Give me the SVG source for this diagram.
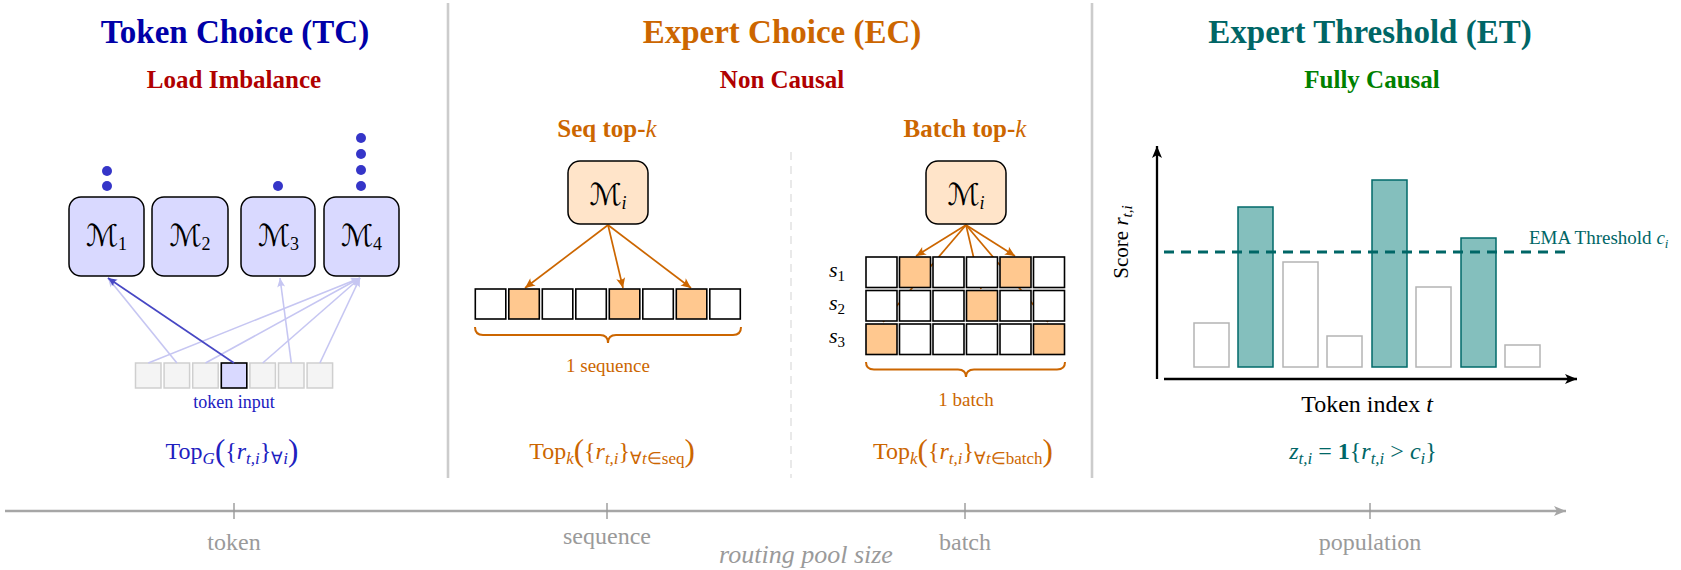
<svg xmlns="http://www.w3.org/2000/svg" width="1681" height="570" viewBox="0 0 1681 570">
<style>
text{font-family:"Liberation Serif","Times New Roman",serif}
.title{font-size:33px;font-weight:bold;text-anchor:middle}
.sub{font-size:25px;font-weight:bold;text-anchor:middle}
.mid{text-anchor:middle}
.it{font-style:italic;font-weight:normal}
.cal{font-family:"DejaVu Serif","DejaVu Sans",serif;font-size:30px;text-anchor:middle}
.num{font-family:"Liberation Serif",serif;font-size:18px}
.sep{stroke:#cccccc;stroke-width:2.6}
.tcbox{fill:#d9d9ff;stroke:#000;stroke-width:1.5}
.ecbox{fill:#ffe4c9;stroke:#000;stroke-width:1.5}
.tok{fill:#f4f4f4;stroke:#cfcfcf;stroke-width:1.5}
.cell{fill:#fff;stroke:#000;stroke-width:1.6}
.hot{fill:#ffc88f}
.dot{fill:#3535c8}
.lt{stroke:#c6c6f2;stroke-width:1.6;fill:none;marker-end:url(#aLt)}
.dk{stroke:#4747c4;stroke-width:1.7;fill:none;marker-end:url(#aDk)}
.or{stroke:#cc6600;stroke-width:1.7;fill:none;marker-end:url(#aOr)}
.brace{stroke:#cc6600;stroke-width:2;fill:none}
.bar0{fill:#fff;stroke:#b4b4b4;stroke-width:1.5}
.bar1{fill:#84bfbd;stroke:#006a6a;stroke-width:1.5}
.axis{stroke:#000;stroke-width:2.3;fill:none}
.gray{fill:#9a9a9a}
</style>
<defs>
<marker id="aLt" viewBox="-11 -6 12 12" refX="0" refY="0" markerWidth="12" markerHeight="12" markerUnits="userSpaceOnUse" orient="auto"><path d="M0,0 L-9,-4 Q-6,0 -9,4 Z" fill="#c6c6f2"/></marker>
<marker id="aDk" viewBox="-11 -6 12 12" refX="0" refY="0" markerWidth="12" markerHeight="12" markerUnits="userSpaceOnUse" orient="auto"><path d="M0,0 L-9,-4 Q-6,0 -9,4 Z" fill="#4747c4"/></marker>
<marker id="aOr" viewBox="-11 -6 12 12" refX="0" refY="0" markerWidth="12" markerHeight="12" markerUnits="userSpaceOnUse" orient="auto"><path d="M0,0 L-10,-4.5 Q-6.5,0 -10,4.5 Z" fill="#cc6600"/></marker>
<marker id="aBk" viewBox="-13 -7 14 14" refX="0" refY="0" markerWidth="14" markerHeight="14" markerUnits="userSpaceOnUse" orient="auto"><path d="M0,0 L-12,-5 L-9,0 L-12,5 Z" fill="#000"/></marker>
<marker id="aGr" viewBox="-13 -7 14 14" refX="0" refY="0" markerWidth="14" markerHeight="14" markerUnits="userSpaceOnUse" orient="auto"><path d="M0,0 L-12,-5 L-9,0 L-12,5 Z" fill="#a6a6a6"/></marker>
</defs>
<rect width="1681" height="570" fill="#fff"/>

<!-- separators -->
<g id="separators">
<line class="sep" x1="448" y1="3" x2="448" y2="478"/>
<line class="sep" x1="1092" y1="3" x2="1092" y2="478"/>
<line x1="791" y1="152" x2="791" y2="478" stroke="#dedede" stroke-width="1.3" stroke-dasharray="8 6"/>
</g>

<!-- titles -->
<g id="titles">
<text class="title" x="235" y="43" fill="#0000a8">Token Choice (TC)</text>
<text class="sub" x="234" y="88" fill="#b00000">Load Imbalance</text>
<text class="title" x="782" y="43" fill="#cc6600">Expert Choice (EC)</text>
<text class="sub" x="782" y="88" fill="#b00000">Non Causal</text>
<text class="title" x="1370" y="43" fill="#006666">Expert Threshold (ET)</text>
<text class="sub" x="1372" y="88" fill="#008000">Fully Causal</text>
<text class="sub" x="607" y="137" fill="#cc6600">Seq top-<tspan class="it">k</tspan></text>
<text class="sub" x="965" y="137" fill="#cc6600">Batch top-<tspan class="it">k</tspan></text>
</g>

<!-- TC experts -->
<g id="tc-m1">
<rect class="tcbox" x="69" y="197" width="75" height="79" rx="12"/>
<text class="cal" x="106.5" y="246">ℳ<tspan class="num" dy="4">1</tspan></text>
<circle class="dot" cx="107" cy="171" r="5"/><circle class="dot" cx="107" cy="186" r="5"/>
</g>
<g id="tc-m2">
<rect class="tcbox" x="152" y="197" width="76" height="79" rx="12"/>
<text class="cal" x="190" y="246">ℳ<tspan class="num" dy="4">2</tspan></text>
</g>
<g id="tc-m3">
<rect class="tcbox" x="241" y="197" width="74" height="79" rx="12"/>
<text class="cal" x="278.5" y="246">ℳ<tspan class="num" dy="4">3</tspan></text>
<circle class="dot" cx="278" cy="186" r="5"/>
</g>
<g id="tc-m4">
<rect class="tcbox" x="324" y="197" width="75" height="79" rx="12"/>
<text class="cal" x="361.5" y="246">ℳ<tspan class="num" dy="4">4</tspan></text>
<circle class="dot" cx="361" cy="138" r="5"/><circle class="dot" cx="361" cy="154" r="5"/><circle class="dot" cx="361" cy="170" r="5"/><circle class="dot" cx="361" cy="186" r="5"/>
</g>

<!-- TC tokens -->
<g id="tc-tokens">
<rect class="tok" x="135.5" y="363" width="25.5" height="25"/>
<rect class="tok" x="164.1" y="363" width="25.5" height="25"/>
<rect class="tok" x="192.7" y="363" width="25.5" height="25"/>
<rect x="221.3" y="363" width="25.5" height="25" fill="#d9d9ff" stroke="#000" stroke-width="1.6"/>
<rect class="tok" x="249.9" y="363" width="25.5" height="25"/>
<rect class="tok" x="278.5" y="363" width="25.5" height="25"/>
<rect class="tok" x="307.1" y="363" width="25.5" height="25"/>
<text class="mid" x="234" y="408" font-size="18" fill="#2020c0">token input</text>
</g>

<!-- connectors -->
<g id="connectors">
<line class="lt" x1="176.9" y1="363" x2="108" y2="278"/>
<line class="lt" x1="148.3" y1="363" x2="360" y2="278"/>
<line class="lt" x1="205.5" y1="363" x2="360" y2="278"/>
<line class="lt" x1="262.7" y1="363" x2="360" y2="278"/>
<line class="lt" x1="291.3" y1="363" x2="280" y2="278"/>
<line class="lt" x1="319.9" y1="363" x2="360" y2="278"/>
<line class="dk" x1="234" y1="363" x2="108" y2="278"/>
<line class="or" x1="608" y1="225" x2="525" y2="288"/>
<line class="or" x1="608" y1="225" x2="623" y2="288"/>
<line class="or" x1="608" y1="225" x2="691" y2="288"/>
<line class="or" x1="966" y1="225" x2="916" y2="256"/>
<line class="or" x1="966" y1="225" x2="1015" y2="256"/>
<line class="or" x1="966" y1="225" x2="981" y2="289"/>
<line class="or" x1="966" y1="225" x2="883" y2="322"/>
<line class="or" x1="966" y1="225" x2="1048" y2="322"/>
</g>

<!-- TC formula -->
<text class="mid" x="232" y="459" font-size="24" fill="#2020c0">Top<tspan class="it" font-size="17" dy="5">G</tspan><tspan font-size="31" dy="-3">(</tspan><tspan dy="-2">{</tspan><tspan class="it">r</tspan><tspan class="it" font-size="17" dy="5">t,i</tspan><tspan dy="-5">}</tspan><tspan font-size="17" dy="5">∀</tspan><tspan class="it" font-size="17">i</tspan><tspan font-size="31" dy="-3">)</tspan></text>

<!-- EC seq -->
<g id="ec-seq-expert">
<rect class="ecbox" x="568" y="161" width="80" height="63" rx="12"/>
<text class="cal" x="608" y="205">ℳ<tspan class="num it" dy="4">i</tspan></text>
</g>
<g id="ec-seq-tokens">
<rect class="cell" x="475.3" y="289" width="30.5" height="30"/>
<rect class="cell hot" x="508.8" y="289" width="30.5" height="30"/>
<rect class="cell" x="542.3" y="289" width="30.5" height="30"/>
<rect class="cell" x="575.8" y="289" width="30.5" height="30"/>
<rect class="cell hot" x="609.3" y="289" width="30.5" height="30"/>
<rect class="cell" x="642.8" y="289" width="30.5" height="30"/>
<rect class="cell hot" x="676.3" y="289" width="30.5" height="30"/>
<rect class="cell" x="709.8" y="289" width="30.5" height="30"/>
<path class="brace" d="M475,327 Q475,335 483,335 H600 Q608,335 608,343 Q608,335 616,335 H733 Q741,335 741,327"/>
<text class="mid" x="608" y="372" font-size="19" fill="#cc6600">1 sequence</text>
</g>
<text class="mid" x="612" y="459" font-size="24" fill="#cc6600">Top<tspan class="it" font-size="17" dy="5">k</tspan><tspan font-size="31" dy="-3">(</tspan><tspan dy="-2">{</tspan><tspan class="it">r</tspan><tspan class="it" font-size="17" dy="5">t,i</tspan><tspan dy="-5">}</tspan><tspan font-size="17" dy="5">∀</tspan><tspan class="it" font-size="17">t</tspan><tspan font-size="17">∈seq</tspan><tspan font-size="31" dy="-3">)</tspan></text>

<!-- EC batch -->
<g id="ec-batch-expert">
<rect class="ecbox" x="926" y="161" width="80" height="63" rx="12"/>
<text class="cal" x="966" y="205">ℳ<tspan class="num it" dy="4">i</tspan></text>
</g>
<g id="ec-batch-grid">
<rect class="cell" x="866" y="257" width="31" height="30.5"/>
<rect class="cell hot" x="899.5" y="257" width="31" height="30.5"/>
<rect class="cell" x="933" y="257" width="31" height="30.5"/>
<rect class="cell" x="966.5" y="257" width="31" height="30.5"/>
<rect class="cell hot" x="1000" y="257" width="31" height="30.5"/>
<rect class="cell" x="1033.5" y="257" width="31" height="30.5"/>
<rect class="cell" x="866" y="290.5" width="31" height="30.5"/>
<rect class="cell" x="899.5" y="290.5" width="31" height="30.5"/>
<rect class="cell" x="933" y="290.5" width="31" height="30.5"/>
<rect class="cell hot" x="966.5" y="290.5" width="31" height="30.5"/>
<rect class="cell" x="1000" y="290.5" width="31" height="30.5"/>
<rect class="cell" x="1033.5" y="290.5" width="31" height="30.5"/>
<rect class="cell hot" x="866" y="324" width="31" height="30.5"/>
<rect class="cell" x="899.5" y="324" width="31" height="30.5"/>
<rect class="cell" x="933" y="324" width="31" height="30.5"/>
<rect class="cell" x="966.5" y="324" width="31" height="30.5"/>
<rect class="cell" x="1000" y="324" width="31" height="30.5"/>
<rect class="cell hot" x="1033.5" y="324" width="31" height="30.5"/>
<text class="mid" x="837" y="277" font-size="22"><tspan class="it">s</tspan><tspan font-size="15" dy="4">1</tspan></text>
<text class="mid" x="837" y="310" font-size="22"><tspan class="it">s</tspan><tspan font-size="15" dy="4">2</tspan></text>
<text class="mid" x="837" y="343" font-size="22"><tspan class="it">s</tspan><tspan font-size="15" dy="4">3</tspan></text>
<path class="brace" d="M866,362 Q866,369.5 874,369.5 H958 Q966,369.5 966,377 Q966,369.5 974,369.5 H1057 Q1065,369.5 1065,362"/>
<text class="mid" x="966" y="406" font-size="19" fill="#cc6600">1 batch</text>
</g>
<text class="mid" x="963" y="459" font-size="24" fill="#cc6600">Top<tspan class="it" font-size="17" dy="5">k</tspan><tspan font-size="31" dy="-3">(</tspan><tspan dy="-2">{</tspan><tspan class="it">r</tspan><tspan class="it" font-size="17" dy="5">t,i</tspan><tspan dy="-5">}</tspan><tspan font-size="17" dy="5">∀</tspan><tspan class="it" font-size="17">t</tspan><tspan font-size="17">∈batch</tspan><tspan font-size="31" dy="-3">)</tspan></text>

<!-- ET chart -->
<g id="et-chart">
<rect class="bar0" x="1194" y="323" width="35" height="44"/>
<rect class="bar1" x="1238" y="207" width="35" height="160"/>
<rect class="bar0" x="1283" y="262" width="35" height="105"/>
<rect class="bar0" x="1327" y="336" width="35" height="31"/>
<rect class="bar1" x="1372" y="180" width="35" height="187"/>
<rect class="bar0" x="1416" y="287" width="35" height="80"/>
<rect class="bar1" x="1461" y="238" width="35" height="129"/>
<rect class="bar0" x="1505" y="345" width="35" height="22"/>
<line x1="1164" y1="252" x2="1572" y2="252" stroke="#006666" stroke-width="3" stroke-dasharray="10 7"/>
<text x="1529" y="244" font-size="19" fill="#006666">EMA Threshold <tspan class="it">c</tspan><tspan class="it" font-size="13" dy="4">i</tspan></text>
<line class="axis" x1="1157" y1="379" x2="1157" y2="146" marker-end="url(#aBk)"/>
<line class="axis" x1="1164" y1="379" x2="1577" y2="379" marker-end="url(#aBk)"/>
<text transform="translate(1128,242) rotate(-90)" class="mid" font-size="21">Score <tspan class="it">r</tspan><tspan class="it" font-size="15" dy="4">t,i</tspan></text>
<text class="mid" x="1367" y="412" font-size="24">Token index <tspan class="it">t</tspan></text>
</g>
<text class="mid" x="1363" y="459" font-size="24" fill="#006666"><tspan class="it">z</tspan><tspan class="it" font-size="17" dy="5">t,i</tspan><tspan dy="-5"> = </tspan><tspan font-weight="bold">1</tspan>{<tspan class="it">r</tspan><tspan class="it" font-size="17" dy="5">t,i</tspan><tspan dy="-5"> &gt; </tspan><tspan class="it">c</tspan><tspan class="it" font-size="17" dy="5">i</tspan><tspan dy="-5">}</tspan></text>

<!-- bottom axis -->
<g id="pool-axis">
<line x1="5" y1="511" x2="1566" y2="511" stroke="#a6a6a6" stroke-width="2.5" marker-end="url(#aGr)"/>
<line x1="234" y1="503" x2="234" y2="519" stroke="#999" stroke-width="1.4"/>
<line x1="607" y1="503" x2="607" y2="519" stroke="#999" stroke-width="1.4"/>
<line x1="965" y1="503" x2="965" y2="519" stroke="#999" stroke-width="1.4"/>
<line x1="1370" y1="503" x2="1370" y2="519" stroke="#999" stroke-width="1.4"/>
<text class="mid gray" x="234" y="550" font-size="24">token</text>
<text class="mid gray" x="607" y="544" font-size="24">sequence</text>
<text class="mid gray" x="965" y="550" font-size="24">batch</text>
<text class="mid gray" x="1370" y="550" font-size="24">population</text>
<text class="mid gray it" x="806" y="563" font-size="26">routing pool size</text>
</g>
</svg>
